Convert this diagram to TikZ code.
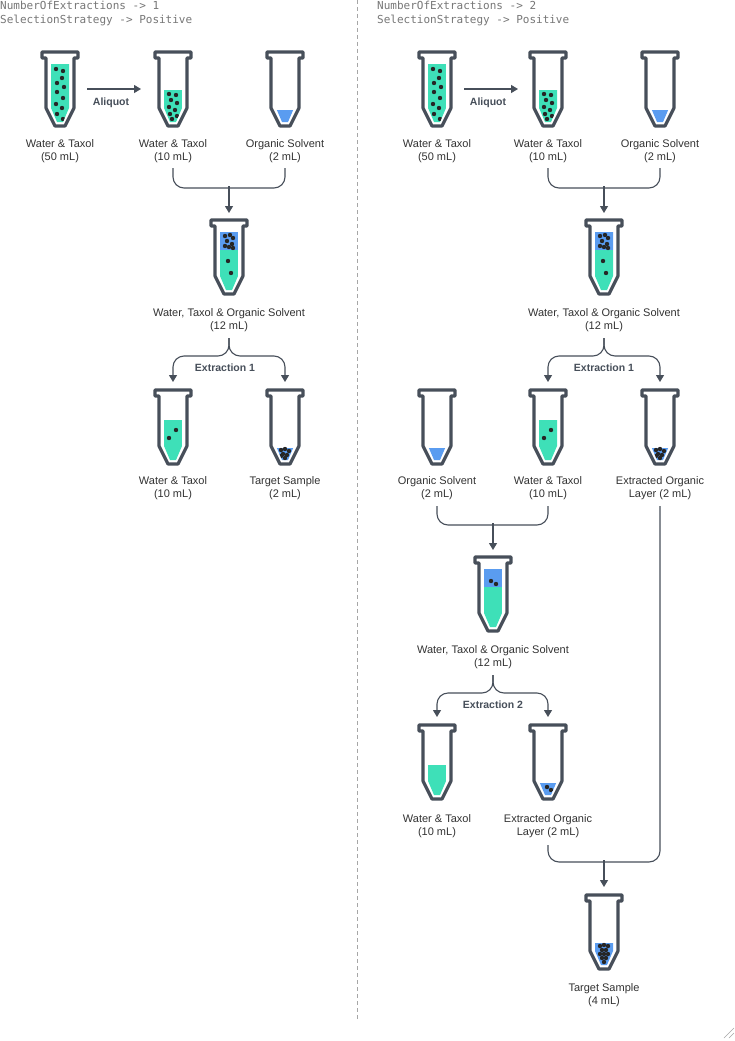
\documentclass[tikz,border=0pt]{standalone}
\usepackage{fontspec}
\setmainfont{Liberation Sans}
\setmonofont{DejaVu Sans Mono}
\usetikzlibrary{arrows.meta}
\definecolor{tubec}{HTML}{474F5A}
\definecolor{grn}{HTML}{3EE0B8}
\definecolor{blu}{HTML}{5A9CF0}
\definecolor{txt}{HTML}{333333}
\definecolor{mono}{HTML}{777777}
\newcommand{\innerpath}{(-9,5)--(9,5)--(9,56)--(3,70)--(-3,70)--(-9,56)--cycle}
\newcommand{\tubeat}[3]{\begin{scope}[shift={(#1,#2)}]
 \begin{scope}\clip \innerpath; #3 \end{scope}
 \draw[tubec,line width=3.2pt,line join=round] (-18,0)--(18,0)--(18,6)--(14,6)--(14,56)--(5,74)--(-5,74)--(-14,56)--(-14,6)--(-18,6)--cycle;
\end{scope}}
\newcommand{\dt}[2]{\fill[black!85] (#1,#2) circle (2.2);}
\tikzset{lab/.style={align=center,font=\fontsize{11}{13.5}\selectfont,text=txt,inner sep=1pt},
 con/.style={tubec,line width=1.1pt,rounded corners=11pt},
 arr/.style={tubec,line width=1.1pt,-{Triangle[length=7pt,width=8pt]}},
 ext/.style={font=\bfseries\fontsize{10.5}{12}\selectfont,text=tubec}}
\newcommand{\fullW}{\fill[grn](-10,12) rectangle (10,80);\dt{-4}{17}\dt{3}{19}\dt{2}{26}\dt{-3}{31}\dt{4}{35}\dt{-3}{40}\dt{3}{46}\dt{-4}{52}\dt{2}{56}\dt{-3}{62}\dt{3}{67}}
\newcommand{\tenW}{\fill[grn](-10,38) rectangle (10,80);\dt{-4}{42}\dt{3}{43}\dt{-2}{48}\dt{4}{51}\dt{-4}{55}\dt{2}{58}\dt{-3}{62}\dt{4}{64}\dt{-1}{67}}
\newcommand{\solv}{\fill[blu](-10,58) rectangle (10,80);}
\newcommand{\mixA}{\fill[blu](-10,12) rectangle (10,30);\fill[grn](-10,30) rectangle (10,80);\dt{-4}{16}\dt{1}{15}\dt{4}{18}\dt{-2}{21}\dt{3}{24}\dt{-4}{26}\dt{0}{27}\dt{4}{28}\dt{-1}{41}\dt{2}{53}}
\newcommand{\watTwo}{\fill[grn](-10,30) rectangle (10,80);\dt{3}{40}\dt{-4}{48}}
\newcommand{\tgt}{\fill[blu](-10,58) rectangle (10,80);\dt{-4}{60}\dt{0}{59}\dt{4}{61}\dt{-2}{64}\dt{2}{65}\dt{-4}{66}\dt{0}{68}}
\newcommand{\mixB}{\fill[blu](-10,12) rectangle (10,30);\fill[grn](-10,30) rectangle (10,80);\dt{-2}{24}\dt{3}{27}}
\newcommand{\watE}{\fill[grn](-10,40) rectangle (10,80);}
\newcommand{\extB}{\fill[blu](-10,58) rectangle (10,80);\dt{-1}{62}\dt{3}{65}}
\newcommand{\tgtB}{\fill[blu](-10,48) rectangle (10,80);\dt{-4}{51}\dt{0}{50}\dt{4}{51}\dt{-2}{55}\dt{2}{55}\dt{-4}{59}\dt{0}{59}\dt{4}{59}\dt{-2}{63}\dt{2}{63}\dt{0}{67}}
\begin{document}
\begin{tikzpicture}[x=1pt,y=-1pt]
\useasboundingbox (0,0) rectangle (735,1041);
\fill[white] (0,0) rectangle (735,1041);
\draw[black!35,line width=0.8pt,dash pattern=on 4pt off 3pt] (357,0)--(357,1020);
\draw[black!35,line width=0.6pt] (724,1038)--(734,1028) (729,1038)--(734,1033);
\node[anchor=north west,font=\ttfamily\fontsize{11}{13.5}\selectfont,text=mono,align=left,inner sep=0] (h1) at (0,1) {NumberOfExtractions -> 1\\SelectionStrategy -> Positive};
\node[anchor=north west,font=\ttfamily\fontsize{11}{13.5}\selectfont,text=mono,align=left,inner sep=0] (h2) at (377,1) {NumberOfExtractions -> 2\\SelectionStrategy -> Positive};
% ===== left
\tubeat{60}{52}{\fullW}
\tubeat{173}{52}{\tenW}
\tubeat{285}{52}{\solv}
\node[lab] (l1) at (60,151) {Water \& Taxol\\(50 mL)};
\node[lab] (l2) at (173,151) {Water \& Taxol\\(10 mL)};
\node[lab] (l3) at (285,151) {Organic Solvent\\(2 mL)};
\coordinate (a1) at (87,89); \coordinate (a2) at (141,89);
\draw[arr] (a1)--(a2);
\node[ext] (al) at (111,103) {Aliquot};
\tubeat{229}{220}{\mixA}
\node[lab] (l4) at (229,320) {Water, Taxol \& Organic Solvent\\(12 mL)};
\draw[con] (173,168)--(173,188)--(229,188);
\draw[con] (285,168)--(285,188)--(229,188);
\draw[arr] (229,186)--(229,213);
\draw[con,-{Triangle[length=7pt,width=8pt]}] (229,338)--(229,356)--(173,356)--(173,382);
\draw[con,-{Triangle[length=7pt,width=8pt]}] (229,338)--(229,356)--(285,356)--(285,382);
\node[ext] (e1) at (225,368) {Extraction 1};
\tubeat{173}{390}{\watTwo}
\tubeat{285}{390}{\tgt}
\node[lab] (l5) at (173,488) {Water \& Taxol\\(10 mL)};
\node[lab] (l6) at (285,488) {Target Sample\\(2 mL)};
% ===== right
\tubeat{437}{52}{\fullW}
\tubeat{548}{52}{\tenW}
\tubeat{660}{52}{\solv}
\node[lab] (r1) at (437,151) {Water \& Taxol\\(50 mL)};
\node[lab] (r2) at (548,151) {Water \& Taxol\\(10 mL)};
\node[lab] (r3) at (660,151) {Organic Solvent\\(2 mL)};
\coordinate (b1) at (464,89); \coordinate (b2) at (518,89);
\draw[arr] (b1)--(b2);
\node[ext] (bl) at (488,103) {Aliquot};
\draw[con] (548,168)--(548,188)--(604,188);
\draw[con] (660,168)--(660,188)--(604,188);
\draw[arr] (604,186)--(604,213);
\tubeat{604}{220}{\mixA}
\node[lab] (r4) at (604,320) {Water, Taxol \& Organic Solvent\\(12 mL)};
\draw[con,-{Triangle[length=7pt,width=8pt]}] (604,338)--(604,356)--(548,356)--(548,382);
\draw[con,-{Triangle[length=7pt,width=8pt]}] (604,338)--(604,356)--(660,356)--(660,382);
\node[ext] (e2) at (604,368) {Extraction 1};
\tubeat{437}{390}{\solv}
\tubeat{548}{390}{\watTwo}
\tubeat{660}{390}{\tgt}
\node[lab] (r5) at (437,488) {Organic Solvent\\(2 mL)};
\node[lab] (r6) at (548,488) {Water \& Taxol\\(10 mL)};
\node[lab] (r7) at (660,488) {Extracted Organic\\Layer (2 mL)};
\draw[con] (437,506)--(437,525)--(493,525);
\draw[con] (548,506)--(548,525)--(493,525);
\draw[arr] (493,523)--(493,550);
\tubeat{493}{557}{\mixB}
\node[lab] (r8) at (493,657) {Water, Taxol \& Organic Solvent\\(12 mL)};
\draw[con,-{Triangle[length=7pt,width=8pt]}] (493,675)--(493,693)--(437,693)--(437,717);
\draw[con,-{Triangle[length=7pt,width=8pt]}] (493,675)--(493,693)--(548,693)--(548,717);
\node[ext] (e3) at (493,705) {Extraction 2};
\tubeat{437}{725}{\watE}
\tubeat{548}{725}{\extB}
\node[lab] (r9) at (437,826) {Water \& Taxol\\(10 mL)};
\node[lab] (r10) at (548,826) {Extracted Organic\\Layer (2 mL)};
\draw[con] (548,845)--(548,862)--(604,862);
\draw[con] (660,506)--(660,862)--(604,862);
\draw[arr] (604,860)--(604,887);
\tubeat{604}{895}{\tgtB}
\node[lab] (r11) at (604,995) {Target Sample\\(4 mL)};
\end{tikzpicture}
\end{document}
